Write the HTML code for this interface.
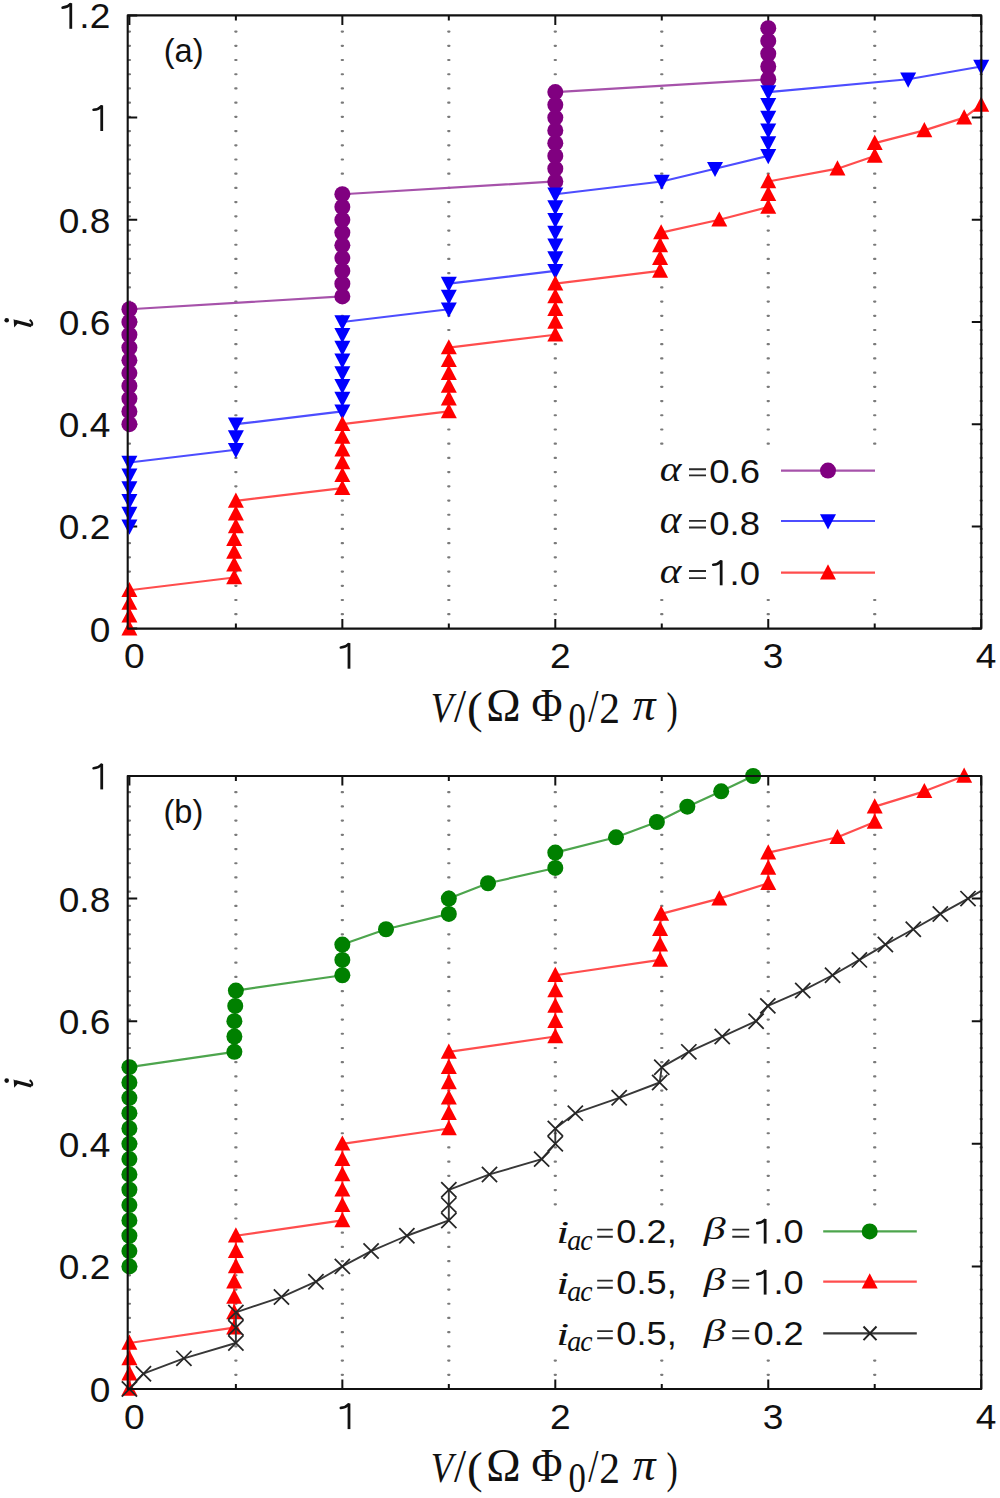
<!DOCTYPE html>
<html><head><meta charset="utf-8"><style>
html,body{margin:0;padding:0;background:#fff;}
svg{display:block;}
text{fill:#111;}
.s{font-family:"Liberation Sans",sans-serif;}
</style></head>
<body><svg width="1000" height="1498" viewBox="0 0 1000 1498">
<rect width="1000" height="1498" fill="#fff"/>
<path d="M128.8 31.6h1.2M128.8 45.81h1.2M128.8 60.02h1.2M128.8 74.23h1.2M128.8 88.44h1.2M128.8 102.65h1.2M128.8 116.86h1.2M128.8 131.07h1.2M128.8 145.28h1.2M128.8 159.49h1.2M128.8 173.7h1.2M128.8 187.91h1.2M128.8 202.12h1.2M128.8 216.33h1.2M128.8 230.54h1.2M128.8 244.75h1.2M128.8 258.96h1.2M128.8 273.17h1.2M128.8 287.38h1.2M128.8 301.59h1.2M128.8 315.8h1.2M128.8 330.01h1.2M128.8 344.22h1.2M128.8 358.43h1.2M128.8 372.64h1.2M128.8 386.85h1.2M128.8 401.06h1.2M128.8 415.27h1.2M128.8 429.48h1.2M128.8 443.69h1.2M128.8 457.9h1.2M128.8 472.11h1.2M128.8 486.32h1.2M128.8 500.53h1.2M128.8 514.74h1.2M128.8 528.95h1.2M128.8 543.16h1.2M128.8 557.37h1.2M128.8 571.58h1.2M128.8 585.79h1.2M128.8 600h1.2M128.8 614.21h1.2M235.28 31.6h1.2M235.28 45.81h1.2M235.28 60.02h1.2M235.28 74.23h1.2M235.28 88.44h1.2M235.28 102.65h1.2M235.28 116.86h1.2M235.28 131.07h1.2M235.28 145.28h1.2M235.28 159.49h1.2M235.28 173.7h1.2M235.28 187.91h1.2M235.28 202.12h1.2M235.28 216.33h1.2M235.28 230.54h1.2M235.28 244.75h1.2M235.28 258.96h1.2M235.28 273.17h1.2M235.28 287.38h1.2M235.28 301.59h1.2M235.28 315.8h1.2M235.28 330.01h1.2M235.28 344.22h1.2M235.28 358.43h1.2M235.28 372.64h1.2M235.28 386.85h1.2M235.28 401.06h1.2M235.28 415.27h1.2M235.28 429.48h1.2M235.28 443.69h1.2M235.28 457.9h1.2M235.28 472.11h1.2M235.28 486.32h1.2M235.28 500.53h1.2M235.28 514.74h1.2M235.28 528.95h1.2M235.28 543.16h1.2M235.28 557.37h1.2M235.28 571.58h1.2M235.28 585.79h1.2M235.28 600h1.2M235.28 614.21h1.2M341.75 31.6h1.2M341.75 45.81h1.2M341.75 60.02h1.2M341.75 74.23h1.2M341.75 88.44h1.2M341.75 102.65h1.2M341.75 116.86h1.2M341.75 131.07h1.2M341.75 145.28h1.2M341.75 159.49h1.2M341.75 173.7h1.2M341.75 187.91h1.2M341.75 202.12h1.2M341.75 216.33h1.2M341.75 230.54h1.2M341.75 244.75h1.2M341.75 258.96h1.2M341.75 273.17h1.2M341.75 287.38h1.2M341.75 301.59h1.2M341.75 315.8h1.2M341.75 330.01h1.2M341.75 344.22h1.2M341.75 358.43h1.2M341.75 372.64h1.2M341.75 386.85h1.2M341.75 401.06h1.2M341.75 415.27h1.2M341.75 429.48h1.2M341.75 443.69h1.2M341.75 457.9h1.2M341.75 472.11h1.2M341.75 486.32h1.2M341.75 500.53h1.2M341.75 514.74h1.2M341.75 528.95h1.2M341.75 543.16h1.2M341.75 557.37h1.2M341.75 571.58h1.2M341.75 585.79h1.2M341.75 600h1.2M341.75 614.21h1.2M448.22 31.6h1.2M448.22 45.81h1.2M448.22 60.02h1.2M448.22 74.23h1.2M448.22 88.44h1.2M448.22 102.65h1.2M448.22 116.86h1.2M448.22 131.07h1.2M448.22 145.28h1.2M448.22 159.49h1.2M448.22 173.7h1.2M448.22 187.91h1.2M448.22 202.12h1.2M448.22 216.33h1.2M448.22 230.54h1.2M448.22 244.75h1.2M448.22 258.96h1.2M448.22 273.17h1.2M448.22 287.38h1.2M448.22 301.59h1.2M448.22 315.8h1.2M448.22 330.01h1.2M448.22 344.22h1.2M448.22 358.43h1.2M448.22 372.64h1.2M448.22 386.85h1.2M448.22 401.06h1.2M448.22 415.27h1.2M448.22 429.48h1.2M448.22 443.69h1.2M448.22 457.9h1.2M448.22 472.11h1.2M448.22 486.32h1.2M448.22 500.53h1.2M448.22 514.74h1.2M448.22 528.95h1.2M448.22 543.16h1.2M448.22 557.37h1.2M448.22 571.58h1.2M448.22 585.79h1.2M448.22 600h1.2M448.22 614.21h1.2M554.7 31.6h1.2M554.7 45.81h1.2M554.7 60.02h1.2M554.7 74.23h1.2M554.7 88.44h1.2M554.7 102.65h1.2M554.7 116.86h1.2M554.7 131.07h1.2M554.7 145.28h1.2M554.7 159.49h1.2M554.7 173.7h1.2M554.7 187.91h1.2M554.7 202.12h1.2M554.7 216.33h1.2M554.7 230.54h1.2M554.7 244.75h1.2M554.7 258.96h1.2M554.7 273.17h1.2M554.7 287.38h1.2M554.7 301.59h1.2M554.7 315.8h1.2M554.7 330.01h1.2M554.7 344.22h1.2M554.7 358.43h1.2M554.7 372.64h1.2M554.7 386.85h1.2M554.7 401.06h1.2M554.7 415.27h1.2M554.7 429.48h1.2M554.7 443.69h1.2M554.7 457.9h1.2M554.7 472.11h1.2M554.7 486.32h1.2M554.7 500.53h1.2M554.7 514.74h1.2M554.7 528.95h1.2M554.7 543.16h1.2M554.7 557.37h1.2M554.7 571.58h1.2M554.7 585.79h1.2M554.7 600h1.2M554.7 614.21h1.2M661.17 31.6h1.2M661.17 45.81h1.2M661.17 60.02h1.2M661.17 74.23h1.2M661.17 88.44h1.2M661.17 102.65h1.2M661.17 116.86h1.2M661.17 131.07h1.2M661.17 145.28h1.2M661.17 159.49h1.2M661.17 173.7h1.2M661.17 187.91h1.2M661.17 202.12h1.2M661.17 216.33h1.2M661.17 230.54h1.2M661.17 244.75h1.2M661.17 258.96h1.2M661.17 273.17h1.2M661.17 287.38h1.2M661.17 301.59h1.2M661.17 315.8h1.2M661.17 330.01h1.2M661.17 344.22h1.2M661.17 358.43h1.2M661.17 372.64h1.2M661.17 386.85h1.2M661.17 401.06h1.2M661.17 415.27h1.2M661.17 429.48h1.2M661.17 443.69h1.2M661.17 457.9h1.2M661.17 472.11h1.2M661.17 486.32h1.2M661.17 500.53h1.2M661.17 514.74h1.2M661.17 528.95h1.2M661.17 543.16h1.2M661.17 557.37h1.2M661.17 571.58h1.2M661.17 585.79h1.2M661.17 600h1.2M661.17 614.21h1.2M767.65 31.6h1.2M767.65 45.81h1.2M767.65 60.02h1.2M767.65 74.23h1.2M767.65 88.44h1.2M767.65 102.65h1.2M767.65 116.86h1.2M767.65 131.07h1.2M767.65 145.28h1.2M767.65 159.49h1.2M767.65 173.7h1.2M767.65 187.91h1.2M767.65 202.12h1.2M767.65 216.33h1.2M767.65 230.54h1.2M767.65 244.75h1.2M767.65 258.96h1.2M767.65 273.17h1.2M767.65 287.38h1.2M767.65 301.59h1.2M767.65 315.8h1.2M767.65 330.01h1.2M767.65 344.22h1.2M767.65 358.43h1.2M767.65 372.64h1.2M767.65 386.85h1.2M767.65 401.06h1.2M767.65 415.27h1.2M767.65 429.48h1.2M767.65 443.69h1.2M767.65 457.9h1.2M767.65 472.11h1.2M767.65 486.32h1.2M767.65 500.53h1.2M767.65 514.74h1.2M767.65 528.95h1.2M767.65 543.16h1.2M767.65 557.37h1.2M767.65 571.58h1.2M767.65 585.79h1.2M767.65 600h1.2M767.65 614.21h1.2M874.12 31.6h1.2M874.12 45.81h1.2M874.12 60.02h1.2M874.12 74.23h1.2M874.12 88.44h1.2M874.12 102.65h1.2M874.12 116.86h1.2M874.12 131.07h1.2M874.12 145.28h1.2M874.12 159.49h1.2M874.12 173.7h1.2M874.12 187.91h1.2M874.12 202.12h1.2M874.12 216.33h1.2M874.12 230.54h1.2M874.12 244.75h1.2M874.12 258.96h1.2M874.12 273.17h1.2M874.12 287.38h1.2M874.12 301.59h1.2M874.12 315.8h1.2M874.12 330.01h1.2M874.12 344.22h1.2M874.12 358.43h1.2M874.12 372.64h1.2M874.12 386.85h1.2M874.12 401.06h1.2M874.12 415.27h1.2M874.12 429.48h1.2M874.12 443.69h1.2M874.12 457.9h1.2M874.12 472.11h1.2M874.12 486.32h1.2M874.12 500.53h1.2M874.12 514.74h1.2M874.12 528.95h1.2M874.12 543.16h1.2M874.12 557.37h1.2M874.12 571.58h1.2M874.12 585.79h1.2M874.12 600h1.2M874.12 614.21h1.2M980.6 31.6h1.2M980.6 45.81h1.2M980.6 60.02h1.2M980.6 74.23h1.2M980.6 88.44h1.2M980.6 102.65h1.2M980.6 116.86h1.2M980.6 131.07h1.2M980.6 145.28h1.2M980.6 159.49h1.2M980.6 173.7h1.2M980.6 187.91h1.2M980.6 202.12h1.2M980.6 216.33h1.2M980.6 230.54h1.2M980.6 244.75h1.2M980.6 258.96h1.2M980.6 273.17h1.2M980.6 287.38h1.2M980.6 301.59h1.2M980.6 315.8h1.2M980.6 330.01h1.2M980.6 344.22h1.2M980.6 358.43h1.2M980.6 372.64h1.2M980.6 386.85h1.2M980.6 401.06h1.2M980.6 415.27h1.2M980.6 429.48h1.2M980.6 443.69h1.2M980.6 457.9h1.2M980.6 472.11h1.2M980.6 486.32h1.2M980.6 500.53h1.2M980.6 514.74h1.2M980.6 528.95h1.2M980.6 543.16h1.2M980.6 557.37h1.2M980.6 571.58h1.2M980.6 585.79h1.2M980.6 600h1.2M980.6 614.21h1.2" stroke="#7a7a7a" stroke-width="2.2" stroke-linecap="round" fill="none"/>
<path d="M127.7 628.6h9.5M981.3 628.6h-9.5M127.7 526.4h9.5M981.3 526.4h-9.5M127.7 424.2h9.5M981.3 424.2h-9.5M127.7 322h9.5M981.3 322h-9.5M127.7 219.8h9.5M981.3 219.8h-9.5M127.7 117.6h9.5M981.3 117.6h-9.5M127.7 15.4h9.5M981.3 15.4h-9.5M129.4 628.6v-9.5M129.4 15.4v9.5M235.88 628.6v-5M235.88 15.4v5M342.35 628.6v-9.5M342.35 15.4v9.5M448.82 628.6v-5M448.82 15.4v5M555.3 628.6v-9.5M555.3 15.4v9.5M661.77 628.6v-5M661.77 15.4v5M768.25 628.6v-9.5M768.25 15.4v9.5M874.72 628.6v-5M874.72 15.4v5M981.2 628.6v-9.5M981.2 15.4v9.5" stroke="#111" stroke-width="2" fill="none"/>
<clipPath id="ca"><rect x="127.7" y="15.4" width="853.6" height="613.2"/></clipPath>
<path d="M129.4 424.2L129.4 411.42L129.4 398.65L129.4 385.88L129.4 373.1L129.4 360.32L129.4 347.55L129.4 334.77L129.4 322L129.4 309.23L342.35 296.45L342.35 283.67L342.35 270.9L342.35 258.12L342.35 245.35L342.35 232.57L342.35 219.8L342.35 207.02L342.35 194.25L555.3 181.47L555.3 168.7L555.3 155.92L555.3 143.15L555.3 130.38L555.3 117.6L555.3 104.83L555.3 92.05L768.25 79.27L768.25 66.5L768.25 53.73L768.25 40.95L768.25 28.17" stroke="#a652aa" stroke-width="2.2" fill="none" stroke-linejoin="round" clip-path="url(#ca)"/>
<circle cx="129.4" cy="424.2" r="8" fill="#800080"/>
<circle cx="129.4" cy="411.42" r="8" fill="#800080"/>
<circle cx="129.4" cy="398.65" r="8" fill="#800080"/>
<circle cx="129.4" cy="385.88" r="8" fill="#800080"/>
<circle cx="129.4" cy="373.1" r="8" fill="#800080"/>
<circle cx="129.4" cy="360.32" r="8" fill="#800080"/>
<circle cx="129.4" cy="347.55" r="8" fill="#800080"/>
<circle cx="129.4" cy="334.77" r="8" fill="#800080"/>
<circle cx="129.4" cy="322" r="8" fill="#800080"/>
<circle cx="129.4" cy="309.23" r="8" fill="#800080"/>
<circle cx="342.35" cy="296.45" r="8" fill="#800080"/>
<circle cx="342.35" cy="283.67" r="8" fill="#800080"/>
<circle cx="342.35" cy="270.9" r="8" fill="#800080"/>
<circle cx="342.35" cy="258.12" r="8" fill="#800080"/>
<circle cx="342.35" cy="245.35" r="8" fill="#800080"/>
<circle cx="342.35" cy="232.57" r="8" fill="#800080"/>
<circle cx="342.35" cy="219.8" r="8" fill="#800080"/>
<circle cx="342.35" cy="207.02" r="8" fill="#800080"/>
<circle cx="342.35" cy="194.25" r="8" fill="#800080"/>
<circle cx="555.3" cy="181.47" r="8" fill="#800080"/>
<circle cx="555.3" cy="168.7" r="8" fill="#800080"/>
<circle cx="555.3" cy="155.92" r="8" fill="#800080"/>
<circle cx="555.3" cy="143.15" r="8" fill="#800080"/>
<circle cx="555.3" cy="130.38" r="8" fill="#800080"/>
<circle cx="555.3" cy="117.6" r="8" fill="#800080"/>
<circle cx="555.3" cy="104.83" r="8" fill="#800080"/>
<circle cx="555.3" cy="92.05" r="8" fill="#800080"/>
<circle cx="768.25" cy="79.27" r="8" fill="#800080"/>
<circle cx="768.25" cy="66.5" r="8" fill="#800080"/>
<circle cx="768.25" cy="53.73" r="8" fill="#800080"/>
<circle cx="768.25" cy="40.95" r="8" fill="#800080"/>
<circle cx="768.25" cy="28.17" r="8" fill="#800080"/>
<path d="M129.4 526.4L129.4 513.62L129.4 500.85L129.4 488.07L129.4 475.3L129.4 462.52L235.88 449.75L235.88 436.98L235.88 424.2L342.35 411.43L342.35 398.65L342.35 385.88L342.35 373.1L342.35 360.32L342.35 347.55L342.35 334.78L342.35 322L448.82 309.23L448.82 296.45L448.82 283.67L555.3 270.9L555.3 258.12L555.3 245.35L555.3 232.58L555.3 219.8L555.3 207.03L555.3 194.25L661.77 181.47L715.01 168.7L768.25 155.92L768.25 143.15L768.25 130.37L768.25 117.6L768.25 104.82L768.25 92.05L908.16 79.27L981.2 66.5L1066.38 53.73" stroke="#4d4dff" stroke-width="2.2" fill="none" stroke-linejoin="round" clip-path="url(#ca)"/>
<path d="M121.4 519.6L137.4 519.6L129.4 534.8Z" fill="#0000ff"/>
<path d="M121.4 506.82L137.4 506.82L129.4 522.02Z" fill="#0000ff"/>
<path d="M121.4 494.05L137.4 494.05L129.4 509.25Z" fill="#0000ff"/>
<path d="M121.4 481.27L137.4 481.27L129.4 496.47Z" fill="#0000ff"/>
<path d="M121.4 468.5L137.4 468.5L129.4 483.7Z" fill="#0000ff"/>
<path d="M121.4 455.72L137.4 455.72L129.4 470.92Z" fill="#0000ff"/>
<path d="M227.88 442.95L243.88 442.95L235.88 458.15Z" fill="#0000ff"/>
<path d="M227.88 430.18L243.88 430.18L235.88 445.38Z" fill="#0000ff"/>
<path d="M227.88 417.4L243.88 417.4L235.88 432.6Z" fill="#0000ff"/>
<path d="M334.35 404.62L350.35 404.62L342.35 419.82Z" fill="#0000ff"/>
<path d="M334.35 391.85L350.35 391.85L342.35 407.05Z" fill="#0000ff"/>
<path d="M334.35 379.07L350.35 379.07L342.35 394.27Z" fill="#0000ff"/>
<path d="M334.35 366.3L350.35 366.3L342.35 381.5Z" fill="#0000ff"/>
<path d="M334.35 353.52L350.35 353.52L342.35 368.72Z" fill="#0000ff"/>
<path d="M334.35 340.75L350.35 340.75L342.35 355.95Z" fill="#0000ff"/>
<path d="M334.35 327.98L350.35 327.98L342.35 343.18Z" fill="#0000ff"/>
<path d="M334.35 315.2L350.35 315.2L342.35 330.4Z" fill="#0000ff"/>
<path d="M440.82 302.43L456.82 302.43L448.82 317.62Z" fill="#0000ff"/>
<path d="M440.82 289.65L456.82 289.65L448.82 304.85Z" fill="#0000ff"/>
<path d="M440.82 276.87L456.82 276.87L448.82 292.07Z" fill="#0000ff"/>
<path d="M547.3 264.1L563.3 264.1L555.3 279.3Z" fill="#0000ff"/>
<path d="M547.3 251.32L563.3 251.32L555.3 266.52Z" fill="#0000ff"/>
<path d="M547.3 238.55L563.3 238.55L555.3 253.75Z" fill="#0000ff"/>
<path d="M547.3 225.78L563.3 225.78L555.3 240.98Z" fill="#0000ff"/>
<path d="M547.3 213L563.3 213L555.3 228.2Z" fill="#0000ff"/>
<path d="M547.3 200.23L563.3 200.23L555.3 215.43Z" fill="#0000ff"/>
<path d="M547.3 187.45L563.3 187.45L555.3 202.65Z" fill="#0000ff"/>
<path d="M653.77 174.67L669.77 174.67L661.77 189.87Z" fill="#0000ff"/>
<path d="M707.01 161.9L723.01 161.9L715.01 177.1Z" fill="#0000ff"/>
<path d="M760.25 149.12L776.25 149.12L768.25 164.32Z" fill="#0000ff"/>
<path d="M760.25 136.35L776.25 136.35L768.25 151.55Z" fill="#0000ff"/>
<path d="M760.25 123.57L776.25 123.57L768.25 138.77Z" fill="#0000ff"/>
<path d="M760.25 110.8L776.25 110.8L768.25 126Z" fill="#0000ff"/>
<path d="M760.25 98.02L776.25 98.02L768.25 113.22Z" fill="#0000ff"/>
<path d="M760.25 85.25L776.25 85.25L768.25 100.45Z" fill="#0000ff"/>
<path d="M900.16 72.47L916.16 72.47L908.16 87.67Z" fill="#0000ff"/>
<path d="M973.2 59.7L989.2 59.7L981.2 74.9Z" fill="#0000ff"/>
<path d="M129.4 628.6L129.4 615.83L129.4 603.05L129.4 590.27L234.17 577.5L234.17 564.73L234.17 551.95L234.17 539.17L235.88 526.4L235.88 513.62L235.88 500.85L342.35 488.07L342.35 475.3L342.35 462.52L342.35 449.75L342.35 436.98L342.35 424.2L448.82 411.43L448.82 398.65L448.82 385.88L448.82 373.1L448.82 360.32L448.82 347.55L555.3 334.78L555.3 322L555.3 309.23L555.3 296.45L555.3 283.68L660.07 270.9L660.07 258.12L660.07 245.35L661.14 232.57L719.27 219.8L768.25 207.03L768.25 194.25L768.25 181.47L837.46 168.7L874.72 155.92L874.72 143.15L924.34 130.38L964.16 117.6L981.2 104.83L1045.09 92.05" stroke="#ff4d4d" stroke-width="2.2" fill="none" stroke-linejoin="round" clip-path="url(#ca)"/>
<path d="M129.4 620.2L137.4 635.4L121.4 635.4Z" fill="#ff0000"/>
<path d="M129.4 607.43L137.4 622.62L121.4 622.62Z" fill="#ff0000"/>
<path d="M129.4 594.65L137.4 609.85L121.4 609.85Z" fill="#ff0000"/>
<path d="M129.4 581.88L137.4 597.07L121.4 597.07Z" fill="#ff0000"/>
<path d="M234.17 569.1L242.17 584.3L226.17 584.3Z" fill="#ff0000"/>
<path d="M234.17 556.33L242.17 571.52L226.17 571.52Z" fill="#ff0000"/>
<path d="M234.17 543.55L242.17 558.75L226.17 558.75Z" fill="#ff0000"/>
<path d="M234.17 530.77L242.17 545.97L226.17 545.97Z" fill="#ff0000"/>
<path d="M235.88 518L243.88 533.2L227.88 533.2Z" fill="#ff0000"/>
<path d="M235.88 505.23L243.88 520.42L227.88 520.42Z" fill="#ff0000"/>
<path d="M235.88 492.45L243.88 507.65L227.88 507.65Z" fill="#ff0000"/>
<path d="M342.35 479.68L350.35 494.88L334.35 494.88Z" fill="#ff0000"/>
<path d="M342.35 466.9L350.35 482.1L334.35 482.1Z" fill="#ff0000"/>
<path d="M342.35 454.12L350.35 469.32L334.35 469.32Z" fill="#ff0000"/>
<path d="M342.35 441.35L350.35 456.55L334.35 456.55Z" fill="#ff0000"/>
<path d="M342.35 428.58L350.35 443.78L334.35 443.78Z" fill="#ff0000"/>
<path d="M342.35 415.8L350.35 431L334.35 431Z" fill="#ff0000"/>
<path d="M448.82 403.03L456.82 418.23L440.82 418.23Z" fill="#ff0000"/>
<path d="M448.82 390.25L456.82 405.45L440.82 405.45Z" fill="#ff0000"/>
<path d="M448.82 377.48L456.82 392.68L440.82 392.68Z" fill="#ff0000"/>
<path d="M448.82 364.7L456.82 379.9L440.82 379.9Z" fill="#ff0000"/>
<path d="M448.82 351.92L456.82 367.12L440.82 367.12Z" fill="#ff0000"/>
<path d="M448.82 339.15L456.82 354.35L440.82 354.35Z" fill="#ff0000"/>
<path d="M555.3 326.38L563.3 341.58L547.3 341.58Z" fill="#ff0000"/>
<path d="M555.3 313.6L563.3 328.8L547.3 328.8Z" fill="#ff0000"/>
<path d="M555.3 300.83L563.3 316.03L547.3 316.03Z" fill="#ff0000"/>
<path d="M555.3 288.05L563.3 303.25L547.3 303.25Z" fill="#ff0000"/>
<path d="M555.3 275.28L563.3 290.48L547.3 290.48Z" fill="#ff0000"/>
<path d="M660.07 262.5L668.07 277.7L652.07 277.7Z" fill="#ff0000"/>
<path d="M660.07 249.72L668.07 264.93L652.07 264.93Z" fill="#ff0000"/>
<path d="M660.07 236.95L668.07 252.15L652.07 252.15Z" fill="#ff0000"/>
<path d="M661.14 224.17L669.14 239.37L653.14 239.37Z" fill="#ff0000"/>
<path d="M719.27 211.4L727.27 226.6L711.27 226.6Z" fill="#ff0000"/>
<path d="M768.25 198.63L776.25 213.83L760.25 213.83Z" fill="#ff0000"/>
<path d="M768.25 185.85L776.25 201.05L760.25 201.05Z" fill="#ff0000"/>
<path d="M768.25 173.07L776.25 188.27L760.25 188.27Z" fill="#ff0000"/>
<path d="M837.46 160.3L845.46 175.5L829.46 175.5Z" fill="#ff0000"/>
<path d="M874.72 147.52L882.72 162.72L866.72 162.72Z" fill="#ff0000"/>
<path d="M874.72 134.75L882.72 149.95L866.72 149.95Z" fill="#ff0000"/>
<path d="M924.34 121.97L932.34 137.18L916.34 137.18Z" fill="#ff0000"/>
<path d="M964.16 109.2L972.16 124.4L956.16 124.4Z" fill="#ff0000"/>
<path d="M981.2 96.43L989.2 111.63L973.2 111.63Z" fill="#ff0000"/>
<rect x="127.7" y="15.4" width="853.6" height="613.2" fill="none" stroke="#111" stroke-width="2.1" stroke-linejoin="round"/>
<text transform="translate(89.67 641.5) scale(1.066 1)" class="s" font-size="34.8">0</text>
<text transform="translate(58.73 539.3) scale(1.066 1)" class="s" font-size="34.8">0</text><text transform="translate(79.36 539.3) scale(1.066 1)" class="s" font-size="34.8">.</text><text transform="translate(89.67 539.3) scale(1.066 1)" class="s" font-size="34.8">2</text>
<text transform="translate(58.73 437.1) scale(1.066 1)" class="s" font-size="34.8">0</text><text transform="translate(79.36 437.1) scale(1.066 1)" class="s" font-size="34.8">.</text><text transform="translate(89.67 437.1) scale(1.066 1)" class="s" font-size="34.8">4</text>
<text transform="translate(58.73 334.9) scale(1.066 1)" class="s" font-size="34.8">0</text><text transform="translate(79.36 334.9) scale(1.066 1)" class="s" font-size="34.8">.</text><text transform="translate(89.67 334.9) scale(1.066 1)" class="s" font-size="34.8">6</text>
<text transform="translate(58.73 232.7) scale(1.066 1)" class="s" font-size="34.8">0</text><text transform="translate(79.36 232.7) scale(1.066 1)" class="s" font-size="34.8">.</text><text transform="translate(89.67 232.7) scale(1.066 1)" class="s" font-size="34.8">8</text>
<path d="M101.72 105.44V131" stroke="#111" stroke-width="2.8" fill="none"/><path d="M101.32 106.34C99.92 108.05 97.23 109.58 93.55 109.79" stroke="#111" stroke-width="2.6" fill="none" stroke-linecap="round"/>
<path d="M70.78 3.24V28.8" stroke="#111" stroke-width="2.8" fill="none"/><path d="M70.38 4.14C68.98 5.85 66.29 7.38 62.61 7.59" stroke="#111" stroke-width="2.6" fill="none" stroke-linecap="round"/><text transform="translate(79.36 28.3) scale(1.066 1)" class="s" font-size="34.8">.</text><text transform="translate(89.67 28.3) scale(1.066 1)" class="s" font-size="34.8">2</text>
<text transform="translate(123.98 668.2) scale(1.066 1)" class="s" font-size="34.8">0</text>
<path d="M348.99 643.14V668.7" stroke="#111" stroke-width="2.8" fill="none"/><path d="M348.59 644.04C347.19 645.75 344.49 647.28 340.81 647.49" stroke="#111" stroke-width="2.6" fill="none" stroke-linecap="round"/>
<text transform="translate(549.88 668.2) scale(1.066 1)" class="s" font-size="34.8">2</text>
<text transform="translate(762.83 668.2) scale(1.066 1)" class="s" font-size="34.8">3</text>
<text transform="translate(975.78 668.2) scale(1.066 1)" class="s" font-size="34.8">4</text>
<path d="M128.8 792.2h1.2M128.8 806.41h1.2M128.8 820.62h1.2M128.8 834.83h1.2M128.8 849.04h1.2M128.8 863.25h1.2M128.8 877.46h1.2M128.8 891.67h1.2M128.8 905.88h1.2M128.8 920.09h1.2M128.8 934.3h1.2M128.8 948.51h1.2M128.8 962.72h1.2M128.8 976.93h1.2M128.8 991.14h1.2M128.8 1005.35h1.2M128.8 1019.56h1.2M128.8 1033.77h1.2M128.8 1047.98h1.2M128.8 1062.19h1.2M128.8 1076.4h1.2M128.8 1090.61h1.2M128.8 1104.82h1.2M128.8 1119.03h1.2M128.8 1133.24h1.2M128.8 1147.45h1.2M128.8 1161.66h1.2M128.8 1175.87h1.2M128.8 1190.08h1.2M128.8 1204.29h1.2M128.8 1218.5h1.2M128.8 1232.71h1.2M128.8 1246.92h1.2M128.8 1261.13h1.2M128.8 1275.34h1.2M128.8 1289.55h1.2M128.8 1303.76h1.2M128.8 1317.97h1.2M128.8 1332.18h1.2M128.8 1346.39h1.2M128.8 1360.6h1.2M128.8 1374.81h1.2M235.28 792.2h1.2M235.28 806.41h1.2M235.28 820.62h1.2M235.28 834.83h1.2M235.28 849.04h1.2M235.28 863.25h1.2M235.28 877.46h1.2M235.28 891.67h1.2M235.28 905.88h1.2M235.28 920.09h1.2M235.28 934.3h1.2M235.28 948.51h1.2M235.28 962.72h1.2M235.28 976.93h1.2M235.28 991.14h1.2M235.28 1005.35h1.2M235.28 1019.56h1.2M235.28 1033.77h1.2M235.28 1047.98h1.2M235.28 1062.19h1.2M235.28 1076.4h1.2M235.28 1090.61h1.2M235.28 1104.82h1.2M235.28 1119.03h1.2M235.28 1133.24h1.2M235.28 1147.45h1.2M235.28 1161.66h1.2M235.28 1175.87h1.2M235.28 1190.08h1.2M235.28 1204.29h1.2M235.28 1218.5h1.2M235.28 1232.71h1.2M235.28 1246.92h1.2M235.28 1261.13h1.2M235.28 1275.34h1.2M235.28 1289.55h1.2M235.28 1303.76h1.2M235.28 1317.97h1.2M235.28 1332.18h1.2M235.28 1346.39h1.2M235.28 1360.6h1.2M235.28 1374.81h1.2M341.75 792.2h1.2M341.75 806.41h1.2M341.75 820.62h1.2M341.75 834.83h1.2M341.75 849.04h1.2M341.75 863.25h1.2M341.75 877.46h1.2M341.75 891.67h1.2M341.75 905.88h1.2M341.75 920.09h1.2M341.75 934.3h1.2M341.75 948.51h1.2M341.75 962.72h1.2M341.75 976.93h1.2M341.75 991.14h1.2M341.75 1005.35h1.2M341.75 1019.56h1.2M341.75 1033.77h1.2M341.75 1047.98h1.2M341.75 1062.19h1.2M341.75 1076.4h1.2M341.75 1090.61h1.2M341.75 1104.82h1.2M341.75 1119.03h1.2M341.75 1133.24h1.2M341.75 1147.45h1.2M341.75 1161.66h1.2M341.75 1175.87h1.2M341.75 1190.08h1.2M341.75 1204.29h1.2M341.75 1218.5h1.2M341.75 1232.71h1.2M341.75 1246.92h1.2M341.75 1261.13h1.2M341.75 1275.34h1.2M341.75 1289.55h1.2M341.75 1303.76h1.2M341.75 1317.97h1.2M341.75 1332.18h1.2M341.75 1346.39h1.2M341.75 1360.6h1.2M341.75 1374.81h1.2M448.22 792.2h1.2M448.22 806.41h1.2M448.22 820.62h1.2M448.22 834.83h1.2M448.22 849.04h1.2M448.22 863.25h1.2M448.22 877.46h1.2M448.22 891.67h1.2M448.22 905.88h1.2M448.22 920.09h1.2M448.22 934.3h1.2M448.22 948.51h1.2M448.22 962.72h1.2M448.22 976.93h1.2M448.22 991.14h1.2M448.22 1005.35h1.2M448.22 1019.56h1.2M448.22 1033.77h1.2M448.22 1047.98h1.2M448.22 1062.19h1.2M448.22 1076.4h1.2M448.22 1090.61h1.2M448.22 1104.82h1.2M448.22 1119.03h1.2M448.22 1133.24h1.2M448.22 1147.45h1.2M448.22 1161.66h1.2M448.22 1175.87h1.2M448.22 1190.08h1.2M448.22 1204.29h1.2M448.22 1218.5h1.2M448.22 1232.71h1.2M448.22 1246.92h1.2M448.22 1261.13h1.2M448.22 1275.34h1.2M448.22 1289.55h1.2M448.22 1303.76h1.2M448.22 1317.97h1.2M448.22 1332.18h1.2M448.22 1346.39h1.2M448.22 1360.6h1.2M448.22 1374.81h1.2M554.7 792.2h1.2M554.7 806.41h1.2M554.7 820.62h1.2M554.7 834.83h1.2M554.7 849.04h1.2M554.7 863.25h1.2M554.7 877.46h1.2M554.7 891.67h1.2M554.7 905.88h1.2M554.7 920.09h1.2M554.7 934.3h1.2M554.7 948.51h1.2M554.7 962.72h1.2M554.7 976.93h1.2M554.7 991.14h1.2M554.7 1005.35h1.2M554.7 1019.56h1.2M554.7 1033.77h1.2M554.7 1047.98h1.2M554.7 1062.19h1.2M554.7 1076.4h1.2M554.7 1090.61h1.2M554.7 1104.82h1.2M554.7 1119.03h1.2M554.7 1133.24h1.2M554.7 1147.45h1.2M554.7 1161.66h1.2M554.7 1175.87h1.2M554.7 1190.08h1.2M554.7 1204.29h1.2M554.7 1218.5h1.2M554.7 1232.71h1.2M554.7 1246.92h1.2M554.7 1261.13h1.2M554.7 1275.34h1.2M554.7 1289.55h1.2M554.7 1303.76h1.2M554.7 1317.97h1.2M554.7 1332.18h1.2M554.7 1346.39h1.2M554.7 1360.6h1.2M554.7 1374.81h1.2M661.17 792.2h1.2M661.17 806.41h1.2M661.17 820.62h1.2M661.17 834.83h1.2M661.17 849.04h1.2M661.17 863.25h1.2M661.17 877.46h1.2M661.17 891.67h1.2M661.17 905.88h1.2M661.17 920.09h1.2M661.17 934.3h1.2M661.17 948.51h1.2M661.17 962.72h1.2M661.17 976.93h1.2M661.17 991.14h1.2M661.17 1005.35h1.2M661.17 1019.56h1.2M661.17 1033.77h1.2M661.17 1047.98h1.2M661.17 1062.19h1.2M661.17 1076.4h1.2M661.17 1090.61h1.2M661.17 1104.82h1.2M661.17 1119.03h1.2M661.17 1133.24h1.2M661.17 1147.45h1.2M661.17 1161.66h1.2M661.17 1175.87h1.2M661.17 1190.08h1.2M661.17 1204.29h1.2M661.17 1218.5h1.2M661.17 1232.71h1.2M661.17 1246.92h1.2M661.17 1261.13h1.2M661.17 1275.34h1.2M661.17 1289.55h1.2M661.17 1303.76h1.2M661.17 1317.97h1.2M661.17 1332.18h1.2M661.17 1346.39h1.2M661.17 1360.6h1.2M661.17 1374.81h1.2M767.65 792.2h1.2M767.65 806.41h1.2M767.65 820.62h1.2M767.65 834.83h1.2M767.65 849.04h1.2M767.65 863.25h1.2M767.65 877.46h1.2M767.65 891.67h1.2M767.65 905.88h1.2M767.65 920.09h1.2M767.65 934.3h1.2M767.65 948.51h1.2M767.65 962.72h1.2M767.65 976.93h1.2M767.65 991.14h1.2M767.65 1005.35h1.2M767.65 1019.56h1.2M767.65 1033.77h1.2M767.65 1047.98h1.2M767.65 1062.19h1.2M767.65 1076.4h1.2M767.65 1090.61h1.2M767.65 1104.82h1.2M767.65 1119.03h1.2M767.65 1133.24h1.2M767.65 1147.45h1.2M767.65 1161.66h1.2M767.65 1175.87h1.2M767.65 1190.08h1.2M767.65 1204.29h1.2M767.65 1218.5h1.2M767.65 1232.71h1.2M767.65 1246.92h1.2M767.65 1261.13h1.2M767.65 1275.34h1.2M767.65 1289.55h1.2M767.65 1303.76h1.2M767.65 1317.97h1.2M767.65 1332.18h1.2M767.65 1346.39h1.2M767.65 1360.6h1.2M767.65 1374.81h1.2M874.12 792.2h1.2M874.12 806.41h1.2M874.12 820.62h1.2M874.12 834.83h1.2M874.12 849.04h1.2M874.12 863.25h1.2M874.12 877.46h1.2M874.12 891.67h1.2M874.12 905.88h1.2M874.12 920.09h1.2M874.12 934.3h1.2M874.12 948.51h1.2M874.12 962.72h1.2M874.12 976.93h1.2M874.12 991.14h1.2M874.12 1005.35h1.2M874.12 1019.56h1.2M874.12 1033.77h1.2M874.12 1047.98h1.2M874.12 1062.19h1.2M874.12 1076.4h1.2M874.12 1090.61h1.2M874.12 1104.82h1.2M874.12 1119.03h1.2M874.12 1133.24h1.2M874.12 1147.45h1.2M874.12 1161.66h1.2M874.12 1175.87h1.2M874.12 1190.08h1.2M874.12 1204.29h1.2M874.12 1218.5h1.2M874.12 1232.71h1.2M874.12 1246.92h1.2M874.12 1261.13h1.2M874.12 1275.34h1.2M874.12 1289.55h1.2M874.12 1303.76h1.2M874.12 1317.97h1.2M874.12 1332.18h1.2M874.12 1346.39h1.2M874.12 1360.6h1.2M874.12 1374.81h1.2M980.6 792.2h1.2M980.6 806.41h1.2M980.6 820.62h1.2M980.6 834.83h1.2M980.6 849.04h1.2M980.6 863.25h1.2M980.6 877.46h1.2M980.6 891.67h1.2M980.6 905.88h1.2M980.6 920.09h1.2M980.6 934.3h1.2M980.6 948.51h1.2M980.6 962.72h1.2M980.6 976.93h1.2M980.6 991.14h1.2M980.6 1005.35h1.2M980.6 1019.56h1.2M980.6 1033.77h1.2M980.6 1047.98h1.2M980.6 1062.19h1.2M980.6 1076.4h1.2M980.6 1090.61h1.2M980.6 1104.82h1.2M980.6 1119.03h1.2M980.6 1133.24h1.2M980.6 1147.45h1.2M980.6 1161.66h1.2M980.6 1175.87h1.2M980.6 1190.08h1.2M980.6 1204.29h1.2M980.6 1218.5h1.2M980.6 1232.71h1.2M980.6 1246.92h1.2M980.6 1261.13h1.2M980.6 1275.34h1.2M980.6 1289.55h1.2M980.6 1303.76h1.2M980.6 1317.97h1.2M980.6 1332.18h1.2M980.6 1346.39h1.2M980.6 1360.6h1.2M980.6 1374.81h1.2" stroke="#7a7a7a" stroke-width="2.2" stroke-linecap="round" fill="none"/>
<path d="M127.7 1389h9.5M981.3 1389h-9.5M127.7 1266.4h9.5M981.3 1266.4h-9.5M127.7 1143.8h9.5M981.3 1143.8h-9.5M127.7 1021.2h9.5M981.3 1021.2h-9.5M127.7 898.6h9.5M981.3 898.6h-9.5M127.7 776h9.5M981.3 776h-9.5M129.4 1389v-9.5M129.4 776v9.5M235.88 1389v-5M235.88 776v5M342.35 1389v-9.5M342.35 776v9.5M448.82 1389v-5M448.82 776v5M555.3 1389v-9.5M555.3 776v9.5M661.77 1389v-5M661.77 776v5M768.25 1389v-9.5M768.25 776v9.5M874.72 1389v-5M874.72 776v5M981.2 1389v-9.5M981.2 776v9.5" stroke="#111" stroke-width="2" fill="none"/>
<clipPath id="cb"><rect x="127.7" y="776" width="853.6" height="613"/></clipPath>
<path d="M129.4 1266.4L129.4 1251.08L129.4 1235.75L129.4 1220.42L129.4 1205.1L129.4 1189.78L129.4 1174.45L129.4 1159.12L129.4 1143.8L129.4 1128.47L129.4 1113.15L129.4 1097.83L129.4 1082.5L129.4 1067.17L234.38 1051.85L234.38 1036.53L234.38 1021.2L235.24 1005.88L235.88 990.55L342.35 975.22L342.35 959.9L342.35 944.57L386 929.25L448.82 913.92L448.82 898.6L488.01 883.28L555.3 867.95L555.3 852.62L615.99 837.3L656.88 821.98L687.33 806.65L721.19 791.33L753.13 776L789.54 760.68" stroke="#4da54d" stroke-width="2.2" fill="none" stroke-linejoin="round" clip-path="url(#cb)"/>
<circle cx="129.4" cy="1266.4" r="8" fill="#008000"/>
<circle cx="129.4" cy="1251.08" r="8" fill="#008000"/>
<circle cx="129.4" cy="1235.75" r="8" fill="#008000"/>
<circle cx="129.4" cy="1220.42" r="8" fill="#008000"/>
<circle cx="129.4" cy="1205.1" r="8" fill="#008000"/>
<circle cx="129.4" cy="1189.78" r="8" fill="#008000"/>
<circle cx="129.4" cy="1174.45" r="8" fill="#008000"/>
<circle cx="129.4" cy="1159.12" r="8" fill="#008000"/>
<circle cx="129.4" cy="1143.8" r="8" fill="#008000"/>
<circle cx="129.4" cy="1128.47" r="8" fill="#008000"/>
<circle cx="129.4" cy="1113.15" r="8" fill="#008000"/>
<circle cx="129.4" cy="1097.83" r="8" fill="#008000"/>
<circle cx="129.4" cy="1082.5" r="8" fill="#008000"/>
<circle cx="129.4" cy="1067.17" r="8" fill="#008000"/>
<circle cx="234.38" cy="1051.85" r="8" fill="#008000"/>
<circle cx="234.38" cy="1036.53" r="8" fill="#008000"/>
<circle cx="234.38" cy="1021.2" r="8" fill="#008000"/>
<circle cx="235.24" cy="1005.88" r="8" fill="#008000"/>
<circle cx="235.88" cy="990.55" r="8" fill="#008000"/>
<circle cx="342.35" cy="975.22" r="8" fill="#008000"/>
<circle cx="342.35" cy="959.9" r="8" fill="#008000"/>
<circle cx="342.35" cy="944.57" r="8" fill="#008000"/>
<circle cx="386" cy="929.25" r="8" fill="#008000"/>
<circle cx="448.82" cy="913.92" r="8" fill="#008000"/>
<circle cx="448.82" cy="898.6" r="8" fill="#008000"/>
<circle cx="488.01" cy="883.28" r="8" fill="#008000"/>
<circle cx="555.3" cy="867.95" r="8" fill="#008000"/>
<circle cx="555.3" cy="852.62" r="8" fill="#008000"/>
<circle cx="615.99" cy="837.3" r="8" fill="#008000"/>
<circle cx="656.88" cy="821.98" r="8" fill="#008000"/>
<circle cx="687.33" cy="806.65" r="8" fill="#008000"/>
<circle cx="721.19" cy="791.33" r="8" fill="#008000"/>
<circle cx="753.13" cy="776" r="8" fill="#008000"/>
<path d="M129.4 1389L129.4 1373.67L129.4 1358.35L129.4 1343.03L234.17 1327.7L234.17 1312.38L234.17 1297.05L234.17 1281.72L235.88 1266.4L235.88 1251.08L235.88 1235.75L342.35 1220.42L342.35 1205.1L342.35 1189.78L342.35 1174.45L342.35 1159.12L342.35 1143.8L448.82 1128.47L448.82 1113.15L448.82 1097.83L448.82 1082.5L448.82 1067.17L448.82 1051.85L555.3 1036.53L555.3 1021.2L555.3 1005.88L555.3 990.55L555.3 975.23L660.07 959.9L660.07 944.58L660.07 929.25L661.14 913.92L719.27 898.6L768.25 883.28L768.25 867.95L768.25 852.62L837.46 837.3L874.72 821.98L874.72 806.65L924.34 791.33L964.16 776L981.2 760.68L1045.09 745.35" stroke="#ff4d4d" stroke-width="2.2" fill="none" stroke-linejoin="round" clip-path="url(#cb)"/>
<path d="M129.4 1380.6L137.4 1395.8L121.4 1395.8Z" fill="#ff0000"/>
<path d="M129.4 1365.27L137.4 1380.47L121.4 1380.47Z" fill="#ff0000"/>
<path d="M129.4 1349.95L137.4 1365.15L121.4 1365.15Z" fill="#ff0000"/>
<path d="M129.4 1334.62L137.4 1349.83L121.4 1349.83Z" fill="#ff0000"/>
<path d="M234.17 1319.3L242.17 1334.5L226.17 1334.5Z" fill="#ff0000"/>
<path d="M234.17 1303.97L242.17 1319.17L226.17 1319.17Z" fill="#ff0000"/>
<path d="M234.17 1288.65L242.17 1303.85L226.17 1303.85Z" fill="#ff0000"/>
<path d="M234.17 1273.32L242.17 1288.52L226.17 1288.52Z" fill="#ff0000"/>
<path d="M235.88 1258L243.88 1273.2L227.88 1273.2Z" fill="#ff0000"/>
<path d="M235.88 1242.67L243.88 1257.88L227.88 1257.88Z" fill="#ff0000"/>
<path d="M235.88 1227.35L243.88 1242.55L227.88 1242.55Z" fill="#ff0000"/>
<path d="M342.35 1212.02L350.35 1227.22L334.35 1227.22Z" fill="#ff0000"/>
<path d="M342.35 1196.7L350.35 1211.9L334.35 1211.9Z" fill="#ff0000"/>
<path d="M342.35 1181.38L350.35 1196.58L334.35 1196.58Z" fill="#ff0000"/>
<path d="M342.35 1166.05L350.35 1181.25L334.35 1181.25Z" fill="#ff0000"/>
<path d="M342.35 1150.72L350.35 1165.92L334.35 1165.92Z" fill="#ff0000"/>
<path d="M342.35 1135.4L350.35 1150.6L334.35 1150.6Z" fill="#ff0000"/>
<path d="M448.82 1120.07L456.82 1135.27L440.82 1135.27Z" fill="#ff0000"/>
<path d="M448.82 1104.75L456.82 1119.95L440.82 1119.95Z" fill="#ff0000"/>
<path d="M448.82 1089.42L456.82 1104.62L440.82 1104.62Z" fill="#ff0000"/>
<path d="M448.82 1074.1L456.82 1089.3L440.82 1089.3Z" fill="#ff0000"/>
<path d="M448.82 1058.77L456.82 1073.97L440.82 1073.97Z" fill="#ff0000"/>
<path d="M448.82 1043.45L456.82 1058.65L440.82 1058.65Z" fill="#ff0000"/>
<path d="M555.3 1028.12L563.3 1043.33L547.3 1043.33Z" fill="#ff0000"/>
<path d="M555.3 1012.8L563.3 1028L547.3 1028Z" fill="#ff0000"/>
<path d="M555.3 997.48L563.3 1012.67L547.3 1012.67Z" fill="#ff0000"/>
<path d="M555.3 982.15L563.3 997.35L547.3 997.35Z" fill="#ff0000"/>
<path d="M555.3 966.83L563.3 982.02L547.3 982.02Z" fill="#ff0000"/>
<path d="M660.07 951.5L668.07 966.7L652.07 966.7Z" fill="#ff0000"/>
<path d="M660.07 936.18L668.07 951.38L652.07 951.38Z" fill="#ff0000"/>
<path d="M660.07 920.85L668.07 936.05L652.07 936.05Z" fill="#ff0000"/>
<path d="M661.14 905.52L669.14 920.72L653.14 920.72Z" fill="#ff0000"/>
<path d="M719.27 890.2L727.27 905.4L711.27 905.4Z" fill="#ff0000"/>
<path d="M768.25 874.88L776.25 890.08L760.25 890.08Z" fill="#ff0000"/>
<path d="M768.25 859.55L776.25 874.75L760.25 874.75Z" fill="#ff0000"/>
<path d="M768.25 844.23L776.25 859.42L760.25 859.42Z" fill="#ff0000"/>
<path d="M837.46 828.9L845.46 844.1L829.46 844.1Z" fill="#ff0000"/>
<path d="M874.72 813.58L882.72 828.77L866.72 828.77Z" fill="#ff0000"/>
<path d="M874.72 798.25L882.72 813.45L866.72 813.45Z" fill="#ff0000"/>
<path d="M924.34 782.93L932.34 798.12L916.34 798.12Z" fill="#ff0000"/>
<path d="M964.16 767.6L972.16 782.8L956.16 782.8Z" fill="#ff0000"/>
<path d="M129.4 1389L143.45 1373.67L183.92 1358.35L235.88 1343.03L235.88 1327.7L235.88 1312.38L281.45 1297.05L315.94 1281.72L342.35 1266.4L371.1 1251.08L406.87 1235.75L448.82 1220.42L448.82 1205.1L448.82 1189.78L489.5 1174.45L541.67 1159.12L555.3 1143.8L555.3 1128.47L575.32 1113.15L619.18 1097.83L659.65 1082.5L661.77 1067.17L688.82 1051.85L722.25 1036.53L756.11 1021.2L767.82 1005.88L802.75 990.55L832.56 975.22L859.39 959.9L885.37 944.58L913.27 929.25L940.31 913.92L968 898.6L993.98 883.28" stroke="#383838" stroke-width="1.9" fill="none" stroke-linejoin="round" clip-path="url(#cb)"/>
<path d="M121.8 1381.4L137 1396.6M121.8 1396.6L137 1381.4" stroke="#262626" stroke-width="1.75" fill="none"/>
<path d="M135.85 1366.08L151.05 1381.27M135.85 1381.27L151.05 1366.08" stroke="#262626" stroke-width="1.75" fill="none"/>
<path d="M176.32 1350.75L191.52 1365.95M176.32 1365.95L191.52 1350.75" stroke="#262626" stroke-width="1.75" fill="none"/>
<path d="M228.28 1335.43L243.47 1350.62M228.28 1350.62L243.47 1335.43" stroke="#262626" stroke-width="1.75" fill="none"/>
<path d="M228.28 1320.1L243.47 1335.3M228.28 1335.3L243.47 1320.1" stroke="#262626" stroke-width="1.75" fill="none"/>
<path d="M228.28 1304.78L243.47 1319.97M228.28 1319.97L243.47 1304.78" stroke="#262626" stroke-width="1.75" fill="none"/>
<path d="M273.85 1289.45L289.05 1304.65M273.85 1304.65L289.05 1289.45" stroke="#262626" stroke-width="1.75" fill="none"/>
<path d="M308.34 1274.12L323.54 1289.32M308.34 1289.32L323.54 1274.12" stroke="#262626" stroke-width="1.75" fill="none"/>
<path d="M334.75 1258.8L349.95 1274M334.75 1274L349.95 1258.8" stroke="#262626" stroke-width="1.75" fill="none"/>
<path d="M363.5 1243.48L378.7 1258.67M363.5 1258.67L378.7 1243.48" stroke="#262626" stroke-width="1.75" fill="none"/>
<path d="M399.27 1228.15L414.47 1243.35M399.27 1243.35L414.47 1228.15" stroke="#262626" stroke-width="1.75" fill="none"/>
<path d="M441.22 1212.83L456.42 1228.02M441.22 1228.02L456.42 1212.83" stroke="#262626" stroke-width="1.75" fill="none"/>
<path d="M441.22 1197.5L456.42 1212.7M441.22 1212.7L456.42 1197.5" stroke="#262626" stroke-width="1.75" fill="none"/>
<path d="M441.22 1182.18L456.42 1197.38M441.22 1197.38L456.42 1182.18" stroke="#262626" stroke-width="1.75" fill="none"/>
<path d="M481.9 1166.85L497.1 1182.05M481.9 1182.05L497.1 1166.85" stroke="#262626" stroke-width="1.75" fill="none"/>
<path d="M534.07 1151.53L549.27 1166.72M534.07 1166.72L549.27 1151.53" stroke="#262626" stroke-width="1.75" fill="none"/>
<path d="M547.7 1136.2L562.9 1151.4M547.7 1151.4L562.9 1136.2" stroke="#262626" stroke-width="1.75" fill="none"/>
<path d="M547.7 1120.88L562.9 1136.07M547.7 1136.07L562.9 1120.88" stroke="#262626" stroke-width="1.75" fill="none"/>
<path d="M567.72 1105.55L582.92 1120.75M567.72 1120.75L582.92 1105.55" stroke="#262626" stroke-width="1.75" fill="none"/>
<path d="M611.58 1090.23L626.78 1105.42M611.58 1105.42L626.78 1090.23" stroke="#262626" stroke-width="1.75" fill="none"/>
<path d="M652.05 1074.9L667.25 1090.1M652.05 1090.1L667.25 1074.9" stroke="#262626" stroke-width="1.75" fill="none"/>
<path d="M654.17 1059.58L669.38 1074.77M654.17 1074.77L669.38 1059.58" stroke="#262626" stroke-width="1.75" fill="none"/>
<path d="M681.22 1044.25L696.42 1059.45M681.22 1059.45L696.42 1044.25" stroke="#262626" stroke-width="1.75" fill="none"/>
<path d="M714.65 1028.93L729.85 1044.12M714.65 1044.12L729.85 1028.93" stroke="#262626" stroke-width="1.75" fill="none"/>
<path d="M748.51 1013.6L763.71 1028.8M748.51 1028.8L763.71 1013.6" stroke="#262626" stroke-width="1.75" fill="none"/>
<path d="M760.22 998.27L775.42 1013.48M760.22 1013.48L775.42 998.27" stroke="#262626" stroke-width="1.75" fill="none"/>
<path d="M795.15 982.95L810.35 998.15M795.15 998.15L810.35 982.95" stroke="#262626" stroke-width="1.75" fill="none"/>
<path d="M824.96 967.62L840.16 982.82M824.96 982.82L840.16 967.62" stroke="#262626" stroke-width="1.75" fill="none"/>
<path d="M851.79 952.3L866.99 967.5M851.79 967.5L866.99 952.3" stroke="#262626" stroke-width="1.75" fill="none"/>
<path d="M877.77 936.98L892.97 952.18M877.77 952.18L892.97 936.98" stroke="#262626" stroke-width="1.75" fill="none"/>
<path d="M905.67 921.65L920.87 936.85M905.67 936.85L920.87 921.65" stroke="#262626" stroke-width="1.75" fill="none"/>
<path d="M932.71 906.32L947.91 921.52M932.71 921.52L947.91 906.32" stroke="#262626" stroke-width="1.75" fill="none"/>
<path d="M960.4 891L975.6 906.2M960.4 906.2L975.6 891" stroke="#262626" stroke-width="1.75" fill="none"/>
<rect x="127.7" y="776" width="853.6" height="613" fill="none" stroke="#111" stroke-width="2.1" stroke-linejoin="round"/>
<text transform="translate(89.67 1401.9) scale(1.066 1)" class="s" font-size="34.8">0</text>
<text transform="translate(58.73 1279.3) scale(1.066 1)" class="s" font-size="34.8">0</text><text transform="translate(79.36 1279.3) scale(1.066 1)" class="s" font-size="34.8">.</text><text transform="translate(89.67 1279.3) scale(1.066 1)" class="s" font-size="34.8">2</text>
<text transform="translate(58.73 1156.7) scale(1.066 1)" class="s" font-size="34.8">0</text><text transform="translate(79.36 1156.7) scale(1.066 1)" class="s" font-size="34.8">.</text><text transform="translate(89.67 1156.7) scale(1.066 1)" class="s" font-size="34.8">4</text>
<text transform="translate(58.73 1034.1) scale(1.066 1)" class="s" font-size="34.8">0</text><text transform="translate(79.36 1034.1) scale(1.066 1)" class="s" font-size="34.8">.</text><text transform="translate(89.67 1034.1) scale(1.066 1)" class="s" font-size="34.8">6</text>
<text transform="translate(58.73 911.5) scale(1.066 1)" class="s" font-size="34.8">0</text><text transform="translate(79.36 911.5) scale(1.066 1)" class="s" font-size="34.8">.</text><text transform="translate(89.67 911.5) scale(1.066 1)" class="s" font-size="34.8">8</text>
<path d="M101.72 763.84V789.4" stroke="#111" stroke-width="2.8" fill="none"/><path d="M101.32 764.74C99.92 766.45 97.23 767.98 93.55 768.19" stroke="#111" stroke-width="2.6" fill="none" stroke-linecap="round"/>
<text transform="translate(123.98 1428.6) scale(1.066 1)" class="s" font-size="34.8">0</text>
<path d="M348.99 1403.54V1429.1" stroke="#111" stroke-width="2.8" fill="none"/><path d="M348.59 1404.44C347.19 1406.15 344.49 1407.68 340.81 1407.89" stroke="#111" stroke-width="2.6" fill="none" stroke-linecap="round"/>
<text transform="translate(549.88 1428.6) scale(1.066 1)" class="s" font-size="34.8">2</text>
<text transform="translate(762.83 1428.6) scale(1.066 1)" class="s" font-size="34.8">3</text>
<text transform="translate(975.78 1428.6) scale(1.066 1)" class="s" font-size="34.8">4</text>
<rect x="650" y="448" width="240" height="148" fill="#fff"/>
<path d="M781 470.6H875" stroke="#a652aa" stroke-width="2.2" fill="none"/>
<circle cx="828" cy="470.6" r="8" fill="#800080"/>
<text transform="translate(659.76 480.54) scale(1.156 1)" font-family='"Liberation Serif",serif' font-style="italic" font-size="35.62">α</text>
<path d="M689 469.3H706M689 475.4H706" stroke="#2a2a2a" stroke-width="1.9"/>
<text transform="translate(709.29 483.1) scale(1.080 1)" class="s" font-size="33.8">0</text><text transform="translate(729.6 483.1) scale(1.080 1)" class="s" font-size="33.8">.</text><text transform="translate(739.74 483.1) scale(1.080 1)" class="s" font-size="33.8">6</text>
<path d="M781 521H875" stroke="#4d4dff" stroke-width="2.2" fill="none"/>
<path d="M820 514.2L836 514.2L828 529.4Z" fill="#0000ff"/>
<text transform="translate(659.76 532.71) scale(1.049 1)" font-family='"Liberation Serif",serif' font-style="italic" font-size="39.27">α</text>
<path d="M689 520.9H706M689 527.5H706" stroke="#2a2a2a" stroke-width="1.9"/>
<text transform="translate(709.29 534.7) scale(1.080 1)" class="s" font-size="33.8">0</text><text transform="translate(729.6 534.7) scale(1.080 1)" class="s" font-size="33.8">.</text><text transform="translate(739.74 534.7) scale(1.080 1)" class="s" font-size="33.8">8</text>
<path d="M781 572.6H875" stroke="#ff4d4d" stroke-width="2.2" fill="none"/>
<path d="M828 564.2L836 579.4L820 579.4Z" fill="#ff0000"/>
<text transform="translate(659.76 582.73) scale(1.123 1)" font-family='"Liberation Serif",serif' font-style="italic" font-size="36.67">α</text>
<path d="M689 571H706M689 578.1H706" stroke="#2a2a2a" stroke-width="1.9"/>
<path d="M721.16 560.46V585.3" stroke="#111" stroke-width="2.8" fill="none"/><path d="M720.76 561.36C719.36 563 716.79 564.48 713.21 564.69" stroke="#111" stroke-width="2.6" fill="none" stroke-linecap="round"/><text transform="translate(729.6 584.8) scale(1.080 1)" class="s" font-size="33.8">.</text><text transform="translate(739.74 584.8) scale(1.080 1)" class="s" font-size="33.8">0</text>
<rect x="550" y="1208" width="370" height="148" fill="#fff"/>
<path d="M823.2 1231.4H916.8" stroke="#4da54d" stroke-width="2.2" fill="none"/>
<circle cx="869.7" cy="1231.4" r="8" fill="#008000"/>
<text transform="translate(556.35 1243.1) scale(1.484 1)" font-family='"Liberation Serif",serif' font-style="italic" font-size="31.21">i</text>
<text transform="translate(567.16 1249.8) scale(0.930 1)" font-family='"Liberation Serif",serif' font-style="italic" font-size="30">a</text>
<text transform="translate(580.17 1249.8) scale(0.922 1)" font-family='"Liberation Serif",serif' font-style="italic" font-size="30">c</text>
<path d="M597.2 1229.6H612.8M597.2 1236.8H612.8" stroke="#2a2a2a" stroke-width="1.9"/>
<text transform="translate(616.33 1243.1) scale(1.080 1)" class="s" font-size="33.5">0</text><text transform="translate(636.45 1243.1) scale(1.080 1)" class="s" font-size="33.5">.</text><text transform="translate(646.51 1243.1) scale(1.080 1)" class="s" font-size="33.5">2</text><text transform="translate(666.63 1243.1) scale(1.080 1)" class="s" font-size="33.5">,</text>
<text transform="translate(703.76 1239.24) scale(1.386 1)" font-family='"Liberation Serif",serif' font-style="italic" font-size="31.69">β</text>
<path d="M732.3 1229.6H749.2M732.3 1236.8H749.2" stroke="#2a2a2a" stroke-width="1.9"/>
<path d="M765.14 1218.98V1243.6" stroke="#111" stroke-width="2.8" fill="none"/><path d="M764.74 1219.88C763.34 1221.49 760.81 1222.96 757.27 1223.17" stroke="#111" stroke-width="2.6" fill="none" stroke-linecap="round"/><text transform="translate(773.51 1243.1) scale(1.080 1)" class="s" font-size="33.5">.</text><text transform="translate(783.56 1243.1) scale(1.080 1)" class="s" font-size="33.5">0</text>
<path d="M823.2 1281.7H916.8" stroke="#ff4d4d" stroke-width="2.2" fill="none"/>
<path d="M869.7 1273.3L877.7 1288.5L861.7 1288.5Z" fill="#ff0000"/>
<text transform="translate(556.35 1294.1) scale(1.484 1)" font-family='"Liberation Serif",serif' font-style="italic" font-size="31.21">i</text>
<text transform="translate(567.16 1300.8) scale(0.930 1)" font-family='"Liberation Serif",serif' font-style="italic" font-size="30">a</text>
<text transform="translate(580.17 1300.8) scale(0.922 1)" font-family='"Liberation Serif",serif' font-style="italic" font-size="30">c</text>
<path d="M597.2 1280.6H612.8M597.2 1287.8H612.8" stroke="#2a2a2a" stroke-width="1.9"/>
<text transform="translate(616.33 1294.1) scale(1.080 1)" class="s" font-size="33.5">0</text><text transform="translate(636.45 1294.1) scale(1.080 1)" class="s" font-size="33.5">.</text><text transform="translate(646.51 1294.1) scale(1.080 1)" class="s" font-size="33.5">5</text><text transform="translate(666.63 1294.1) scale(1.080 1)" class="s" font-size="33.5">,</text>
<text transform="translate(703.76 1290.24) scale(1.386 1)" font-family='"Liberation Serif",serif' font-style="italic" font-size="31.69">β</text>
<path d="M732.3 1280.6H749.2M732.3 1287.8H749.2" stroke="#2a2a2a" stroke-width="1.9"/>
<path d="M765.14 1269.98V1294.6" stroke="#111" stroke-width="2.8" fill="none"/><path d="M764.74 1270.88C763.34 1272.49 760.81 1273.96 757.27 1274.17" stroke="#111" stroke-width="2.6" fill="none" stroke-linecap="round"/><text transform="translate(773.51 1294.1) scale(1.080 1)" class="s" font-size="33.5">.</text><text transform="translate(783.56 1294.1) scale(1.080 1)" class="s" font-size="33.5">0</text>
<path d="M823.2 1333.3H916.8" stroke="#383838" stroke-width="2.2" fill="none"/>
<path d="M863.5 1326.5L876.5 1340.1M863.5 1340.1L876.5 1326.5" stroke="#222" stroke-width="2" fill="none"/>
<text transform="translate(556.35 1344.6) scale(1.484 1)" font-family='"Liberation Serif",serif' font-style="italic" font-size="31.21">i</text>
<text transform="translate(567.16 1351.3) scale(0.930 1)" font-family='"Liberation Serif",serif' font-style="italic" font-size="30">a</text>
<text transform="translate(580.17 1351.3) scale(0.922 1)" font-family='"Liberation Serif",serif' font-style="italic" font-size="30">c</text>
<path d="M597.2 1331.1H612.8M597.2 1338.3H612.8" stroke="#2a2a2a" stroke-width="1.9"/>
<text transform="translate(616.33 1344.6) scale(1.080 1)" class="s" font-size="33.5">0</text><text transform="translate(636.45 1344.6) scale(1.080 1)" class="s" font-size="33.5">.</text><text transform="translate(646.51 1344.6) scale(1.080 1)" class="s" font-size="33.5">5</text><text transform="translate(666.63 1344.6) scale(1.080 1)" class="s" font-size="33.5">,</text>
<text transform="translate(703.76 1340.74) scale(1.386 1)" font-family='"Liberation Serif",serif' font-style="italic" font-size="31.69">β</text>
<path d="M732.3 1331.1H749.2M732.3 1338.3H749.2" stroke="#2a2a2a" stroke-width="1.9"/>
<text transform="translate(753.38 1344.6) scale(1.080 1)" class="s" font-size="33.5">0</text><text transform="translate(773.51 1344.6) scale(1.080 1)" class="s" font-size="33.5">.</text><text transform="translate(783.56 1344.6) scale(1.080 1)" class="s" font-size="33.5">2</text>
<text x="163.7" y="62.3" class="s" font-size="32.6">(a)</text>
<text x="163.5" y="823" class="s" font-size="32.6">(b)</text>
<g transform="translate(0 0)" fill="#111"><circle cx="6.7" cy="320.3" r="2.3"/><path d="M13.6 318.9L14.2 327.4L18.5 322.6Z"/><path d="M15 321.2L31.2 325.6" stroke="#111" stroke-width="3.2" fill="none"/><path d="M31.2 325.6C33.2 324.6 32 321.2 29.6 319.8" stroke="#111" stroke-width="2" fill="none"/></g>
<g transform="translate(0 760.3)" fill="#111"><circle cx="6.7" cy="320.3" r="2.3"/><path d="M13.6 318.9L14.2 327.4L18.5 322.6Z"/><path d="M15 321.2L31.2 325.6" stroke="#111" stroke-width="3.2" fill="none"/><path d="M31.2 325.6C33.2 324.6 32 321.2 29.6 319.8" stroke="#111" stroke-width="2" fill="none"/></g>
<text transform="translate(430.69 721.58) scale(0.879 1)" font-family='"Liberation Serif",serif' font-style="italic" font-size="41.5">V</text>
<text transform="translate(454.1 722.44) scale(0.939 1)" font-family='"Liberation Serif",serif' font-size="46.47">/</text>
<text transform="translate(466.98 723.13) scale(1.043 1)" font-family='"Liberation Serif",serif' font-size="45.11">(</text>
<text transform="translate(486.19 720.9) scale(0.988 1)" font-family='"Liberation Serif",serif' font-size="46.82">Ω</text>
<text transform="translate(531.53 721.13) scale(0.912 1)" font-family='"Liberation Serif",serif' font-size="46.46">Φ</text>
<text transform="translate(568.61 731.58) scale(0.829 1)" font-family='"Liberation Serif",serif' font-size="41.93">0</text>
<text transform="translate(588.2 721.74) scale(0.793 1)" font-family='"Liberation Serif",serif' font-size="46.32">/</text>
<text transform="translate(599.33 722.9) scale(0.925 1)" font-family='"Liberation Serif",serif' font-size="44.85">2</text>
<text transform="translate(632.87 720.45) scale(1.004 1)" font-family='"Liberation Serif",serif' font-style="italic" font-size="45.38">π</text>
<text transform="translate(666.48 723.17) scale(0.762 1)" font-family='"Liberation Serif",serif' font-size="44.44">)</text>
<text transform="translate(430.69 1481.58) scale(0.879 1)" font-family='"Liberation Serif",serif' font-style="italic" font-size="41.5">V</text>
<text transform="translate(454.1 1482.44) scale(0.939 1)" font-family='"Liberation Serif",serif' font-size="46.47">/</text>
<text transform="translate(466.98 1483.13) scale(1.043 1)" font-family='"Liberation Serif",serif' font-size="45.11">(</text>
<text transform="translate(486.19 1480.9) scale(0.988 1)" font-family='"Liberation Serif",serif' font-size="46.82">Ω</text>
<text transform="translate(531.53 1481.13) scale(0.912 1)" font-family='"Liberation Serif",serif' font-size="46.46">Φ</text>
<text transform="translate(568.61 1491.58) scale(0.829 1)" font-family='"Liberation Serif",serif' font-size="41.93">0</text>
<text transform="translate(588.2 1481.74) scale(0.793 1)" font-family='"Liberation Serif",serif' font-size="46.32">/</text>
<text transform="translate(599.33 1482.9) scale(0.925 1)" font-family='"Liberation Serif",serif' font-size="44.85">2</text>
<text transform="translate(632.87 1480.45) scale(1.004 1)" font-family='"Liberation Serif",serif' font-style="italic" font-size="45.38">π</text>
<text transform="translate(666.48 1483.17) scale(0.762 1)" font-family='"Liberation Serif",serif' font-size="44.44">)</text>
</svg></body></html>
